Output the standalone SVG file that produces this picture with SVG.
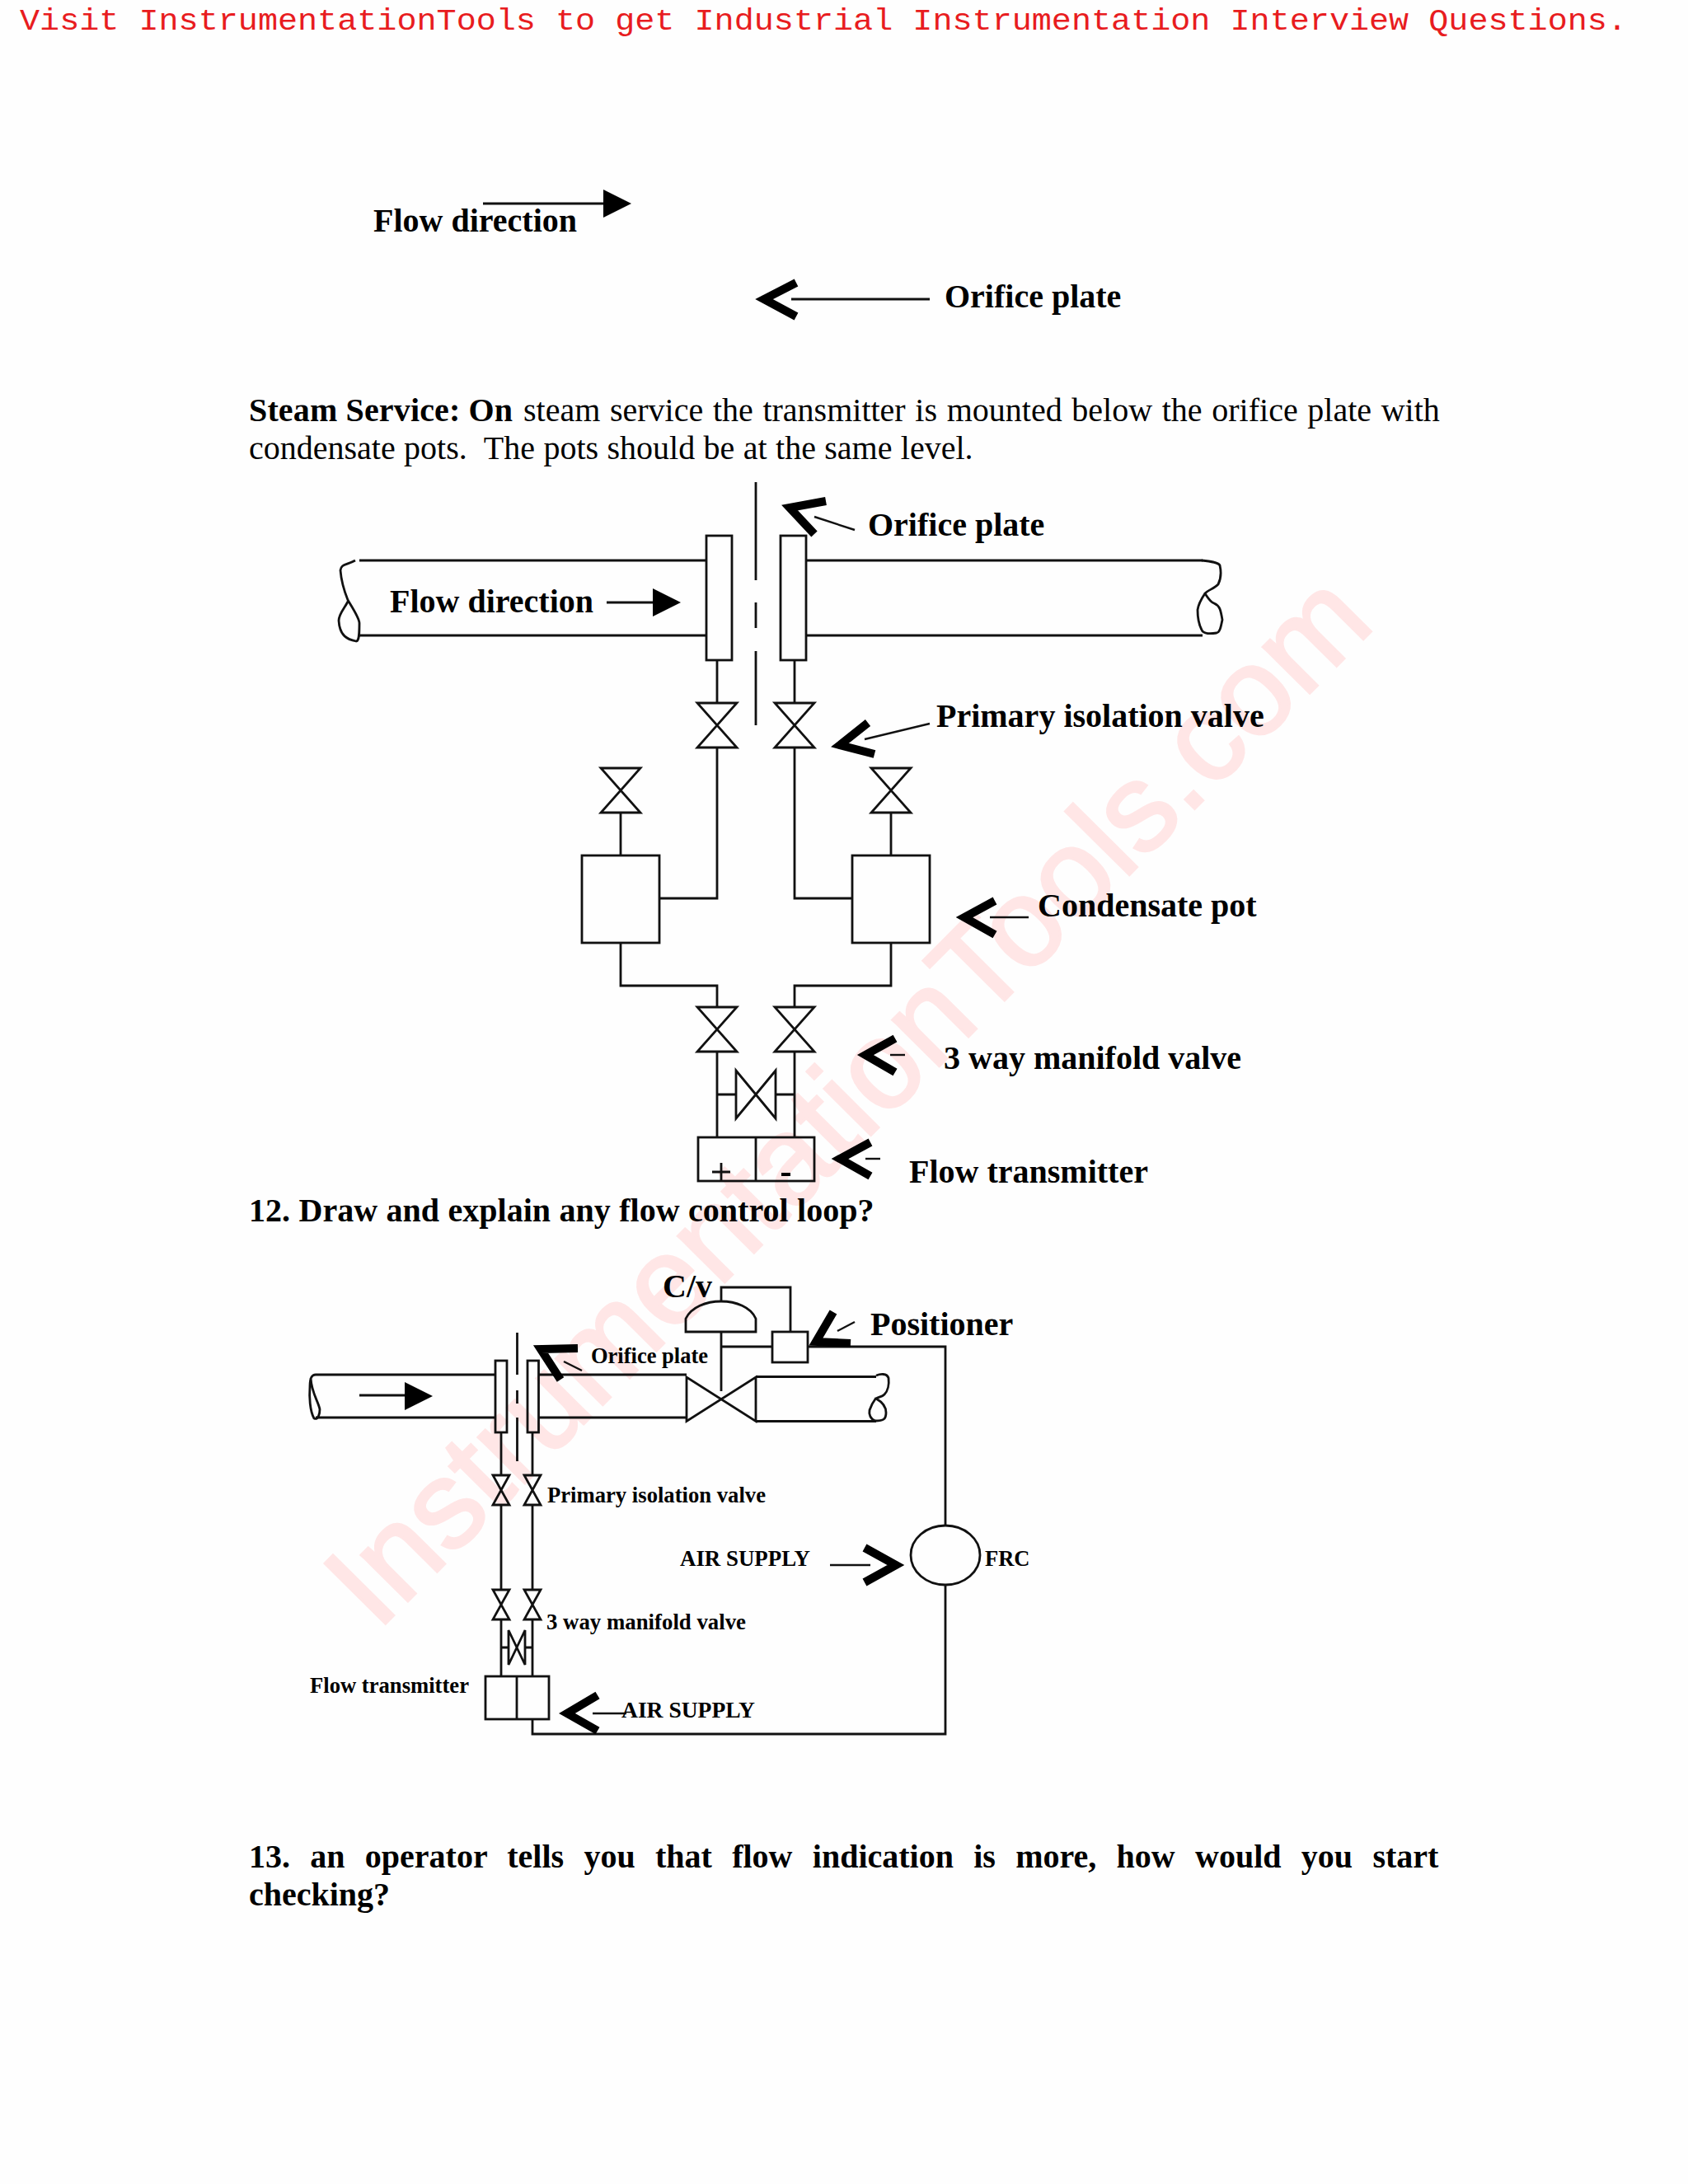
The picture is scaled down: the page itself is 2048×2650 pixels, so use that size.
<svg xmlns="http://www.w3.org/2000/svg" width="2048" height="2650" viewBox="0 0 2048 2650">
<style>
.ln{fill:none;stroke:#111;stroke-width:2.8}
.th{fill:none;stroke:#111;stroke-width:2.4}
.ch{fill:none;stroke:#000;stroke-width:10;stroke-linejoin:miter}
.hd{fill:#000}
.b{font-family:"Liberation Serif","Times New Roman",serif;font-weight:bold;fill:#000}
.r{font-family:"Liberation Serif","Times New Roman",serif;fill:#000}
.s40{font-size:40px}
.s26{font-size:26.5px}
.hdr{font-family:"Liberation Mono","Courier New",monospace;font-size:36px;fill:#e81c20}
.wm{font-family:"Liberation Sans",Arial,sans-serif;font-size:151px;fill:#ffe6e6;stroke:#ffe6e6;stroke-width:3}
</style>
<defs>
<path id="vv" class="ln" d="M-24-27H24L-24 27H24Z"/>
<path id="ve" class="ln" d="M-24-29V29L24-29V29Z"/>
<path id="sv" class="ln" d="M-10-18H10L-10 18H10Z"/>
<path id="se" class="ln" d="M-10-21V21L10-21V21Z"/>
<path id="tri" class="hd" d="M0-17V17L34 0Z"/>
</defs>
<rect width="2048" height="2650" fill="#fefefe"/>
<text class="wm" transform="translate(458 1980) rotate(-45.200)">InstrumentationTools.com</text>
<text class="hdr" x="24" y="36" textLength="1950" lengthAdjust="spacingAndGlyphs">Visit InstrumentationTools to get Industrial Instrumentation Interview Questions.</text>

<g id="text-blocks">
<text x="302" y="511" class="s40"><tspan class="b" letter-spacing="0.15">Steam Service: On</tspan><tspan class="r" x="635" word-spacing="1.66">steam service the transmitter is mounted below the orifice plate with</tspan></text>
<text class="r s40" x="302" y="557" xml:space="preserve" word-spacing="0.4">condensate pots.  The pots should be at the same level.</text>
<text class="b s40" x="302" y="1482" word-spacing="0.5">12. Draw and explain any flow control loop?</text>
<text class="b s40" x="302" y="2266" word-spacing="14.3">13. an operator tells you that flow indication is more, how would you start</text>
<text class="b s40" x="302" y="2312">checking?</text>
</g>

<g id="connectors">
<path class="ln" d="M586 247H732"/>
<path class="ln" d="M960 363H1128"/>
<path class="ln" d="M436 680H857M436 771H857M978 680H1459M978 771H1459"/>
<path class="ln" d="M917 585V704M917 731V762M917 790V880"/>
<path class="ln" d="M736 731H792"/>
<path class="ln" d="M870 801V853M964 801V853"/>
<path class="ln" d="M870 907V1090H800M964 907V1090H1034"/>
<path class="ln" d="M753 986V1038M1081 986V1038"/>
<path class="ln" d="M753 1144V1196H870V1222M1081 1144V1196H964V1222"/>
<path class="ln" d="M870 1276V1380M964 1276V1380M870 1328H893M941 1328H964"/>
<path class="ln" d="M383 1668H601M383 1720H601M653 1668H833M653 1720H833M917 1670.5H1063M917 1724.5H1063"/>
<path class="ln" d="M627.500 1617V1668M627.500 1687V1703M627.500 1720V1773"/>
<path class="ln" d="M436 1693H491"/>
<path class="ln" d="M608 1738V1790M646 1738V1790M608 1826V1929M646 1826V1929M608 1965V2034M646 1965V2034M608 1999H617M637 1999H646"/>
<path class="ln" d="M875 1616V1688M875 1579V1562H959V1616M875 1634H937"/>
<path class="ln" d="M980 1634H1147V1851M1147 1923V2104H646V2086"/>
</g>

<g id="leader-arrows">
<polyline class="ch" points="966,343 927,363 966,384"/>
<polyline class="ch" points="1002,608 958,616 988,648"/>
<path class="th" d="M988 627L1037 643"/>
<polyline class="ch" points="1053,877 1019,904 1061,915"/>
<path class="th" d="M1049 897L1128 878"/>
<polyline class="ch" points="1207,1093 1170,1113 1207,1134"/>
<path class="th" d="M1201 1113H1248"/>
<polyline class="ch" points="1086,1260 1050,1280 1086,1301"/>
<path class="th" d="M1080 1280H1098"/>
<polyline class="ch" points="1056,1386 1019,1406 1056,1427"/>
<path class="th" d="M1050 1406H1068"/>
<polyline class="ch" points="701,1636 656,1637 680,1674"/>
<path class="th" d="M684 1652L706 1663"/>
<polyline class="ch" points="1011,1592 990,1628 1032,1630"/>
<path class="th" d="M1016 1615L1037 1604"/>
<polyline class="ch" points="1049,1878 1087,1899 1049,1920"/>
<path class="th" d="M1007 1899H1056"/>
<polyline class="ch" points="725,2057 688,2079 725,2100"/>
<path class="th" d="M719 2079H760"/>
</g>

<g id="top-flow-direction"><text class="b s40" x="453" y="281">Flow direction</text><use href="#tri" x="732" y="247"/></g>
<g id="top-orifice-label"><text class="b s40" x="1146" y="373">Orifice plate</text></g>

<g id="upper-pipe">
<path class="ln" d="M431 680C420 686 414 684 413 692C414 705 418 718 422 728C428 738 436 750 436 756C436 768 436 778 432 778C422 776 412 772 411 753C411 745 418 738 422 730"/>
<path class="ln" d="M1458 680C1468 681 1478 682 1480 686C1482 695 1481 703 1478 709C1473 714 1466 716 1462 720C1466 726 1468 730 1473 732C1480 735 1481 740 1483 752C1481 762 1480 767 1476 768C1470 769 1462 769 1459 766C1454 758 1453 748 1453 740C1454 732 1458 726 1462 720"/>
<rect class="ln" x="857" y="650" width="31" height="151"/>
<rect class="ln" x="947" y="650" width="31" height="151"/>
<text class="b s40" x="473" y="743">Flow direction</text>
<use href="#tri" x="792" y="731"/>
</g>
<g id="upper-orifice-label"><text class="b s40" x="1053" y="650">Orifice plate</text></g>
<g id="upper-primary-label"><text class="b s40" x="1136" y="882">Primary isolation valve</text></g>
<g id="valve-1"><use href="#vv" x="870" y="880"/></g>
<g id="valve-2"><use href="#vv" x="964" y="880"/></g>
<g id="valve-3"><use href="#vv" x="753" y="959"/></g>
<g id="valve-4"><use href="#vv" x="1081" y="959"/></g>
<g id="pot-left"><rect class="ln" x="706" y="1038" width="94" height="106"/></g>
<g id="pot-right"><rect class="ln" x="1034" y="1038" width="94" height="106"/><text class="b s40" x="1259" y="1112">Condensate pot</text></g>
<g id="valve-5"><use href="#vv" x="870" y="1249"/></g>
<g id="valve-6"><use href="#vv" x="964" y="1249"/></g>
<g id="valve-7"><use href="#ve" x="917" y="1328"/><text class="b s40" x="1145" y="1297">3 way manifold valve</text></g>
<g id="transmitter-1">
<rect class="ln" x="847" y="1380" width="141" height="53"/>
<path class="ln" d="M917 1380V1433"/>
<path class="ln" d="M864 1422H886M875 1411V1433"/>
<rect class="hd" x="948" y="1423" width="11" height="4"/>
<text class="b s40" x="1103" y="1435">Flow transmitter</text>
</g>

<g id="lower-pipe">
<path class="ln" d="M383 1668C378 1668 376 1672 376 1682C375 1695 376 1712 381 1721C386 1723 388 1716 388 1710C386 1700 378 1690 377 1672"/>
<path class="ln" d="M1063 1669C1068 1667 1076 1666 1078 1672C1079 1680 1077 1688 1073 1692C1070 1695 1066 1695 1063 1697C1070 1701 1075 1706 1075 1714C1075 1722 1072 1724 1062 1724C1056 1722 1054 1716 1055 1711C1057 1705 1060 1700 1063 1696"/>
<rect class="ln" x="601" y="1651" width="14" height="87"/>
<rect class="ln" x="640" y="1651" width="13.500" height="87"/>
<use href="#tri" x="491" y="1694"/>
<text class="b s26" x="717" y="1654">Orifice plate</text>
</g>
<g id="control-valve">
<path class="ln" d="M833 1671V1724.500L917 1671V1724.500Z"/>
<path class="ln" d="M832 1616V1600C845 1572 905 1572 917 1600V1616Z"/>
<text class="b s40" x="804" y="1574">C/v</text>
</g>
<g id="positioner"><rect class="ln" x="937" y="1616" width="43" height="37"/><text class="b s40" x="1056" y="1620">Positioner</text></g>
<g id="valve-8"><use href="#sv" x="608" y="1808"/></g>
<g id="valve-9"><use href="#sv" x="646" y="1808"/><text class="b s26" x="664" y="1823" textLength="265" lengthAdjust="spacingAndGlyphs">Primary isolation valve</text></g>
<g id="valve-10"><use href="#sv" x="608" y="1947"/></g>
<g id="valve-11"><use href="#sv" x="646" y="1947"/></g>
<g id="valve-12"><use href="#se" x="627" y="1999"/><text class="b s26" x="663" y="1977" textLength="242" lengthAdjust="spacingAndGlyphs">3 way manifold valve</text></g>
<g id="frc"><ellipse class="ln" cx="1147" cy="1887" rx="42" ry="36"/><text class="b s26" x="1195" y="1900">FRC</text></g>
<g id="air-supply-1"><text class="b s26" x="825" y="1900" textLength="158" lengthAdjust="spacingAndGlyphs">AIR SUPPLY</text></g>
<g id="air-supply-2"><text class="b s26" x="754" y="2084" textLength="162" lengthAdjust="spacingAndGlyphs">AIR SUPPLY</text></g>
<g id="transmitter-2">
<rect class="ln" x="589" y="2034" width="77" height="52"/>
<path class="ln" d="M627 2034V2086"/>
<text class="b s26" x="376" y="2054" textLength="193" lengthAdjust="spacingAndGlyphs">Flow transmitter</text>
</g>
</svg>
